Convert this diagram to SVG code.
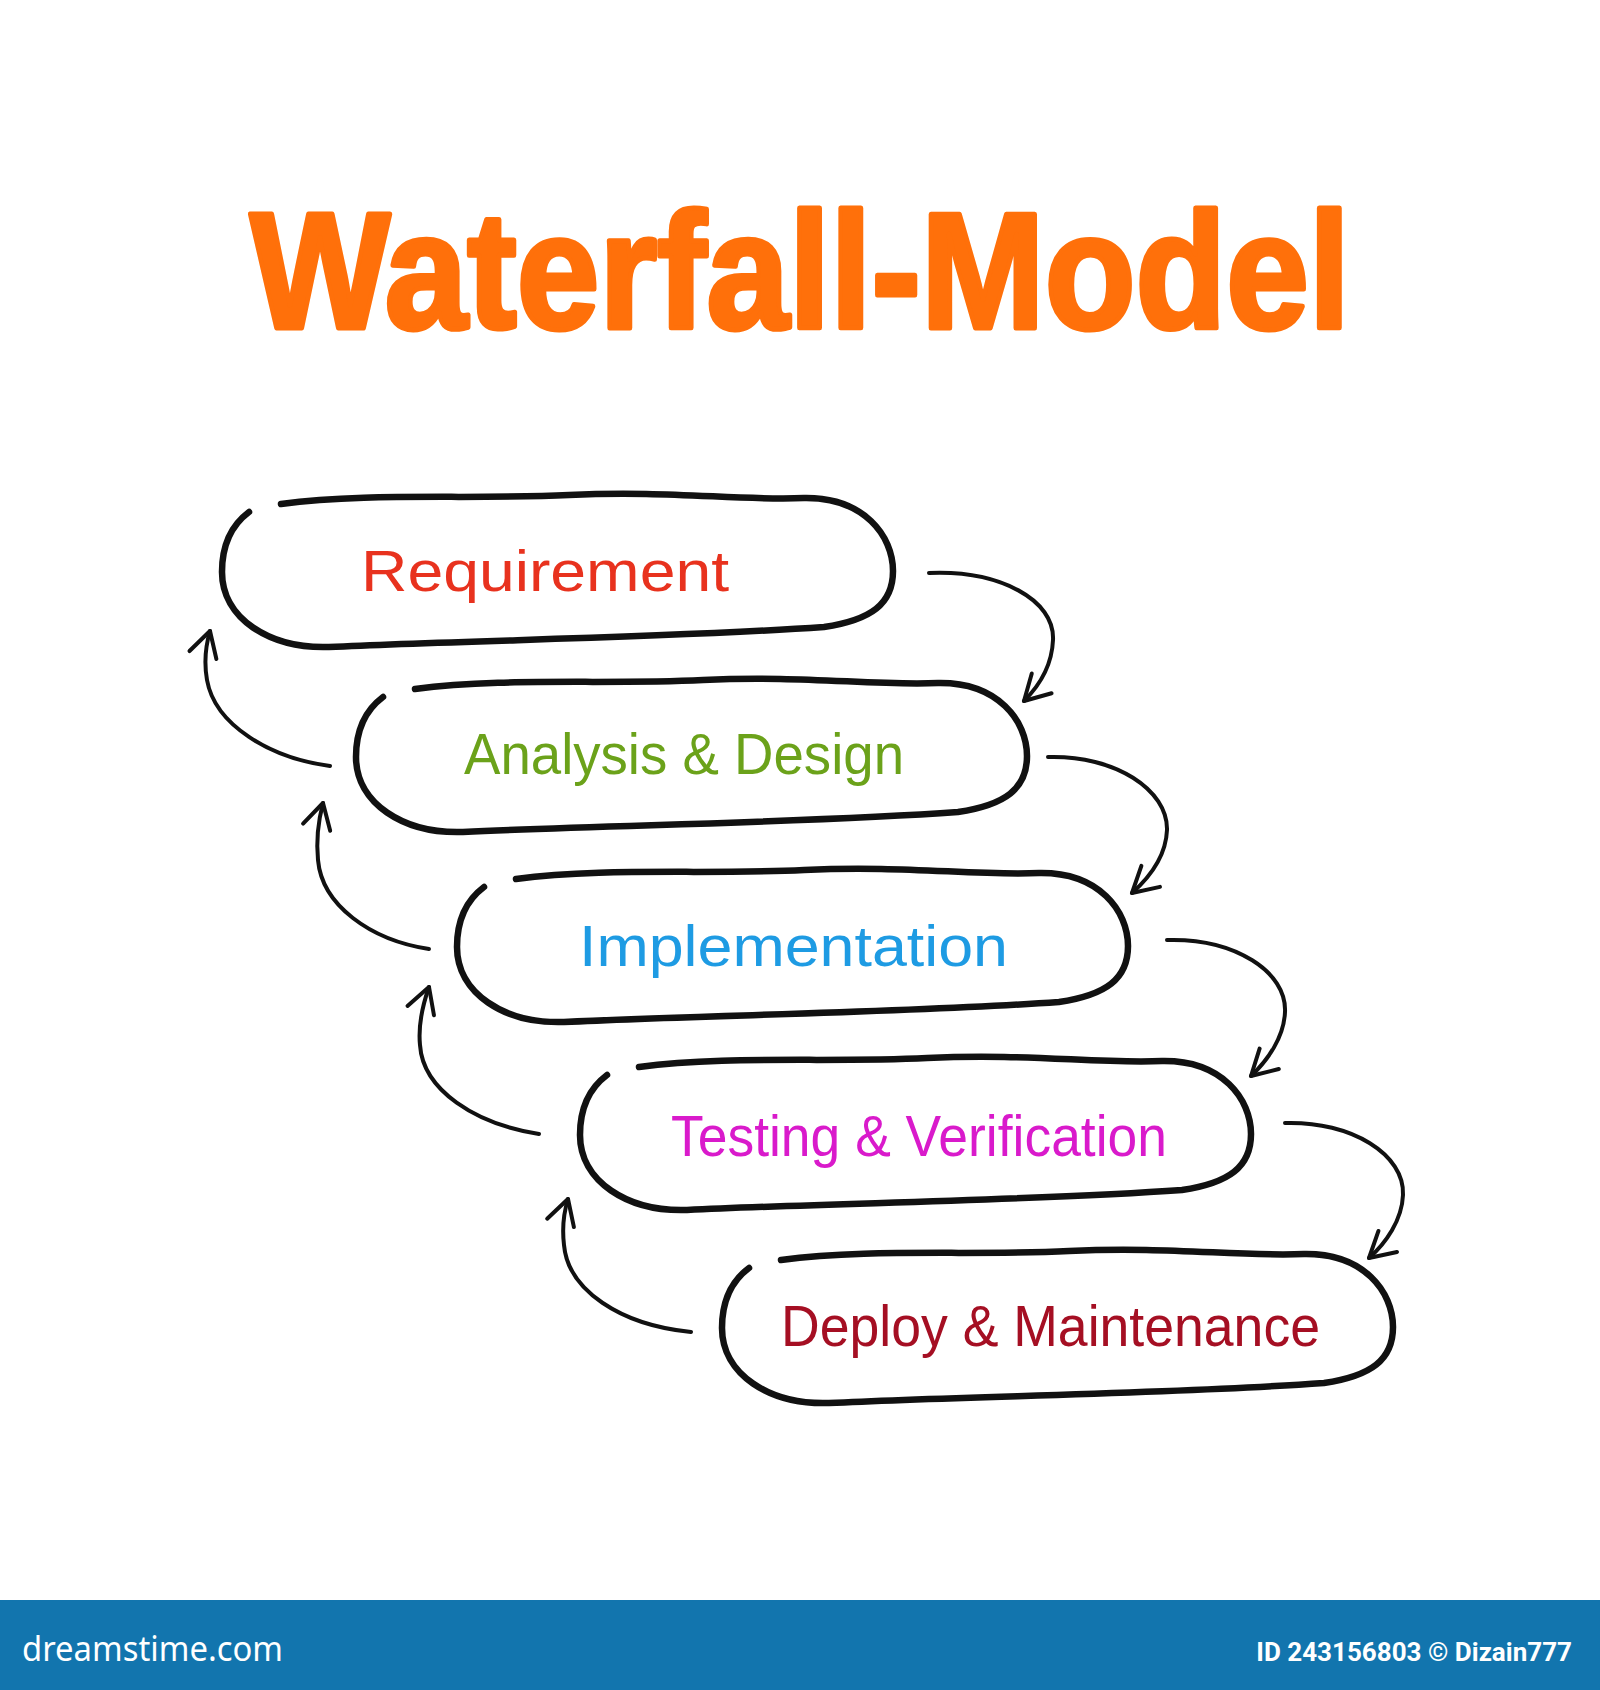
<svg xmlns="http://www.w3.org/2000/svg" xmlns:xlink="http://www.w3.org/1999/xlink" width="1600" height="1690" viewBox="0 0 1600 1690">
<style>
.pill{fill:none;stroke:#111;stroke-width:6.5;stroke-linecap:round;stroke-linejoin:round}
.conn{fill:none;stroke:#111;stroke-width:4;stroke-linecap:round}
.lbl{font-family:"Liberation Sans","Noto Sans",sans-serif;font-size:58px}
.title{font-family:"Liberation Sans",Arial,sans-serif;font-weight:bold;font-size:166px;fill:#FF700A;stroke:#FF700A;stroke-width:5;stroke-linejoin:round;stroke-linecap:round}
</style>
<defs>
<path id="pill" d="M62,8 C150,-4 250,4 350,-1 C450,-6 520,5 585,2 C645,1 674,40 674,75 C674,108 652,124 605,131 C450,142 250,144 110,151 C50,153 3,122 3,76 C3,48 14,28 30,16"/>
<marker id="ah" markerUnits="userSpaceOnUse" markerWidth="40" markerHeight="40" refX="0" refY="0" viewBox="-30 -20 40 40" orient="auto" overflow="visible">
<path d="M-25,-14 L0,0 L-25,14" fill="none" stroke="#111" stroke-width="4" stroke-linecap="round" stroke-linejoin="round"/>
</marker>
</defs>
<rect width="1600" height="1690" fill="#fff"/>
<text class="title" x="250" y="328" textLength="1100" lengthAdjust="spacingAndGlyphs">Waterfall-Model</text>

<g id="connectors">
<path class="conn" marker-end="url(#ah)" d="M929,573 C1000,570 1055,600 1053,640 C1052,665 1040,685 1024,701"/>
<path class="conn" marker-end="url(#ah)" d="M1048,757 C1115,755 1168,790 1167,830 C1166,855 1150,877 1132,893"/>
<path class="conn" marker-end="url(#ah)" d="M1167,940 C1235,938 1287,972 1285,1012 C1284,1037 1268,1060 1251,1076"/>
<path class="conn" marker-end="url(#ah)" d="M1285,1123 C1352,1121 1405,1155 1403,1195 C1402,1220 1386,1243 1369,1258"/>
<path class="conn" marker-end="url(#ah)" d="M330,766 C270,758 215,725 207,680 C204,663 205,648 210,631"/>
<path class="conn" marker-end="url(#ah)" d="M429,949 C370,940 322,905 318,860 C316,840 318,822 323,803"/>
<path class="conn" marker-end="url(#ah)" d="M539,1134 C475,1124 423,1090 420,1045 C418,1025 422,1007 429,987"/>
<path class="conn" marker-end="url(#ah)" d="M691,1332 C620,1325 568,1290 564,1245 C562,1228 563,1215 568,1199"/>
</g>

<g id="node-requirement">
<use xlink:href="#pill" class="pill" transform="translate(219,496)"/>
<text class="lbl" x="361" y="591" fill="#E8321E" textLength="368" lengthAdjust="spacingAndGlyphs">Requirement</text>
</g>
<g id="node-analysis">
<use xlink:href="#pill" class="pill" transform="translate(353,681)"/>
<text class="lbl" x="464" y="774" fill="#6BA21A" textLength="440" lengthAdjust="spacingAndGlyphs">Analysis &amp; Design</text>
</g>
<g id="node-implementation">
<use xlink:href="#pill" class="pill" transform="translate(454,871)"/>
<text class="lbl" x="579" y="966" fill="#1E9BE3" textLength="429" lengthAdjust="spacingAndGlyphs">Implementation</text>
</g>
<g id="node-testing">
<use xlink:href="#pill" class="pill" transform="translate(577,1059)"/>
<text class="lbl" x="671" y="1156" fill="#D91ACB" textLength="496" lengthAdjust="spacingAndGlyphs">Testing &amp; Verification</text>
</g>
<g id="node-deploy">
<use xlink:href="#pill" class="pill" transform="translate(719,1252)"/>
<text class="lbl" x="781" y="1346" fill="#A50F23" textLength="539" lengthAdjust="spacingAndGlyphs">Deploy &amp; Maintenance</text>
</g>

<g id="footer">
<rect x="0" y="1600" width="1600" height="90" fill="#1275AE"/>
<text x="22" y="1661" fill="#fff" font-family="'Noto Sans','Liberation Sans',sans-serif" font-size="34" textLength="261" lengthAdjust="spacingAndGlyphs">dreamstime.com</text>
<text x="1572" y="1661" fill="#fff" font-family="Roboto,'Liberation Sans',sans-serif" font-weight="bold" font-size="26" text-anchor="end">ID 243156803 © Dizain777</text>
</g>
</svg>
